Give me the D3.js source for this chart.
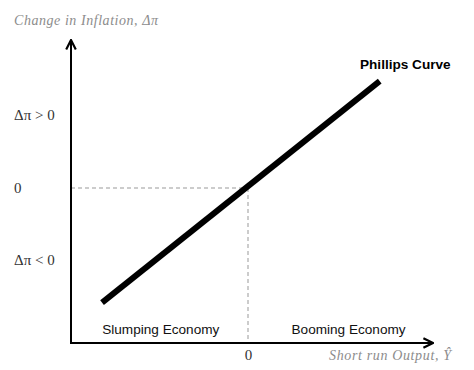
<html>
<script src='https://cdn.jsdelivr.net/npm/d3@7'></script>
<style>
  body {margin: 0; background: white;}
  .sans {font-family: 'Liberation Sans', Arial, sans-serif;}
  .math {font-family: 'Liberation Serif', serif; fill: #333;}
  .title {font-family: 'Liberation Serif', serif; font-style: italic; fill: #8c8c8c;}
</style>
<body onload='init()'>
<svg width=474 height=370></svg>
<script>
// output gap (x) and change in inflation (y), end points of the curve
var outputGap = [-0.82, 0.74]
var inflationChange = [-0.74, 0.69]
// y tick values and labels
var yTicks = [0.47, 0, -0.46]
var yLabels = ['Δπ > 0', '0', 'Δπ < 0']
var xTicks = [0]
var xLabels = ['0']
var regions = ['Slumping Economy', 'Booming Economy']
var regionX = [-0.49, 0.565]

function init() {
  var svg = d3.select('svg')
  var x = d3.scaleLinear().domain([-1, 1]).range([70, 426])
  var y = d3.scaleLinear().domain([-1, 1]).range([343, 33])
  var x0 = x(-1) + 1, y0 = 343

  var defs = svg.append('defs')
  defs.append('marker').attr('id', 'arr').attr('viewBox', '0 0 10 10')
    .attr('refX', 9).attr('refY', 5)
    .attr('markerUnits', 'userSpaceOnUse').attr('orient', 'auto')
    .attr('markerWidth', 12).attr('markerHeight', 12)
    .append('path').attr('d', 'M1,1 L9,5 L1,9').attr('fill', 'none')
    .attr('stroke', 'black').attr('stroke-width', 1.8)

  // dashed guides
  svg.append('line').attr('x1', x0).attr('x2', x(0)).attr('y1', y(0)).attr('y2', y(0))
    .attr('stroke', '#999').attr('stroke-dasharray', '4,3')
  svg.append('line').attr('x1', x(0)).attr('x2', x(0)).attr('y1', y(0)).attr('y2', y0)
    .attr('stroke', '#999').attr('stroke-dasharray', '4,3')

  // axes
  svg.append('line').attr('x1', x0).attr('x2', x0).attr('y1', y0 + 1).attr('y2', 40)
    .attr('stroke', 'black').attr('stroke-width', 2).attr('marker-end', 'url(#arr)')
  svg.append('line').attr('x1', x0 - 1).attr('x2', 433).attr('y1', y0).attr('y2', y0)
    .attr('stroke', 'black').attr('stroke-width', 2).attr('marker-end', 'url(#arr)')

  // tick labels
  var ya = svg.append('g').attr('transform', 'translate(' + x0 + ',0)')
    .call(d3.axisLeft(y).tickValues(yTicks).tickSize(0)
      .tickFormat(function(d, i) { return yLabels[i]; }))
  ya.select('.domain').remove()
  ya.selectAll('text').attr('class', 'math').attr('text-anchor', 'start')
    .attr('x', 14 - x0).attr('font-size', 15).attr('dy', '0.32em')

  var xa = svg.append('g').attr('transform', 'translate(0,' + y0 + ')')
    .call(d3.axisBottom(x).tickValues(xTicks).tickSize(0)
      .tickFormat(function(d, i) { return xLabels[i]; }))
  xa.select('.domain').remove()
  xa.selectAll('text').attr('class', 'math').attr('font-size', 15).attr('y', 6)

  // Phillips curve
  var pts = outputGap.map(function(d, i) { return [d, inflationChange[i]]; })
  svg.append('path').datum(pts)
    .attr('d', d3.line().x(function(d) { return x(d[0]); }).y(function(d) { return y(d[1]); }))
    .attr('stroke', 'black').attr('stroke-width', 6).attr('fill', 'none')

  svg.append('text').attr('class', 'sans').attr('x', 360).attr('y', 69)
    .attr('font-size', 13.6).attr('font-weight', 'bold').text('Phillips Curve')

  svg.selectAll('.region').data(regions).enter().append('text')
    .attr('class', 'sans').attr('x', function(d, i) { return x(regionX[i]); })
    .attr('y', 334).attr('text-anchor', 'middle').attr('font-size', 13.6).attr('fill', '#111')
    .text(function(d) { return d; })

  // axis titles
  svg.append('text').attr('class', 'title').attr('x', 14).attr('y', 25)
    .attr('font-size', 14).attr('textLength', 144).text('Change in Inflation, Δπ')
  svg.append('text').attr('class', 'title').attr('x', 329).attr('y', 360)
    .attr('font-size', 14).attr('textLength', 122).text('Short run Output,  Ŷ')
}
</script>
</body>
</html>
